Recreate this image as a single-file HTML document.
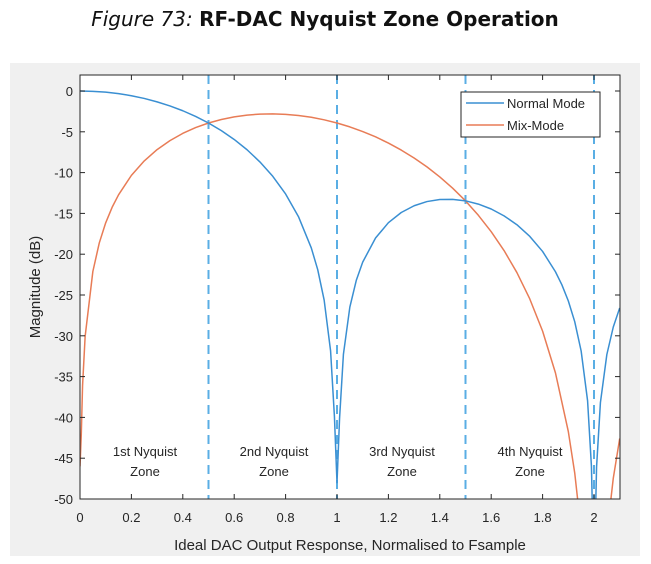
<!DOCTYPE html>
<html><head><meta charset="utf-8"><style>
html,body{margin:0;padding:0;background:#fff;width:651px;height:564px;overflow:hidden}
svg{display:block}
</style></head><body>
<svg id="chart" width="651" height="564" xmlns="http://www.w3.org/2000/svg">
<text x="325" y="26" text-anchor="middle" font-family="'DejaVu Sans','Liberation Sans',sans-serif" font-size="20" fill="#111"><tspan font-style="italic">Figure 73:</tspan> <tspan font-weight="bold">RF-DAC Nyquist Zone Operation</tspan></text>
<rect x="10" y="63" width="630" height="493" fill="#f0f0f0"/>
<rect x="80" y="75" width="540" height="424" fill="#fff"/>
<defs><clipPath id="clip"><rect x="80" y="75" width="540" height="424"/></clipPath></defs>
<g id="grid"></g>
<g id="series" clip-path="url(#clip)"></g>
<rect x="80" y="75" width="540" height="424" fill="none" stroke="#262626" stroke-width="1"/>
<g id="axes" font-family="'Liberation Sans',sans-serif" font-size="13" fill="#262626"></g>
<g font-family="'Liberation Sans',sans-serif" font-size="13" fill="#262626" text-anchor="middle">
<text x="145" y="456"><tspan x="145">1st Nyquist</tspan><tspan x="145" dy="20">Zone</tspan></text>
<text x="274" y="456"><tspan x="274">2nd Nyquist</tspan><tspan x="274" dy="20">Zone</tspan></text>
<text x="402" y="456"><tspan x="402">3rd Nyquist</tspan><tspan x="402" dy="20">Zone</tspan></text>
<text x="530" y="456"><tspan x="530">4th Nyquist</tspan><tspan x="530" dy="20">Zone</tspan></text>
</g>
<text x="350" y="550" text-anchor="middle" font-family="'Liberation Sans',sans-serif" font-size="15" fill="#262626">Ideal DAC Output Response, Normalised to Fsample</text>
<text transform="translate(40,287) rotate(-90)" text-anchor="middle" font-family="'Liberation Sans',sans-serif" font-size="15" fill="#262626">Magnitude (dB)</text>
<g>
<rect x="461" y="92" width="139" height="45" fill="#fff" stroke="#262626" stroke-width="1"/>
<line x1="466" y1="103" x2="504" y2="103" stroke="#3a8fd2" stroke-width="1.5"/>
<text x="507" y="108" font-family="'Liberation Sans',sans-serif" font-size="13" fill="#262626">Normal Mode</text>
<line x1="466" y1="125" x2="504" y2="125" stroke="#e87c56" stroke-width="1.5"/>
<text x="507" y="130" font-family="'Liberation Sans',sans-serif" font-size="13" fill="#262626">Mix-Mode</text>
</g>
</svg>
<script>
const xTicks = [0,0.2,0.4,0.6,0.8,1,1.2,1.4,1.6,1.8,2];
const xTickLabels = ["0","0.2","0.4","0.6","0.8","1","1.2","1.4","1.6","1.8","2"];
const yTicks = [0,-5,-10,-15,-20,-25,-30,-35,-40,-45,-50];
const zoneBoundaries = [0.5,1,1.5,2];
const normalF = [0,0.05,0.1,0.15,0.2,0.25,0.3,0.35,0.4,0.45,0.5,0.55,0.6,0.65,0.7,0.75,0.8,0.85,0.9,0.925,0.95,0.975,0.99,1.0,1.01,1.025,1.05,1.075,1.1,1.15,1.2,1.25,1.3,1.35,1.4,1.45,1.5,1.55,1.6,1.65,1.7,1.75,1.8,1.85,1.875,1.9,1.925,1.95,1.975,1.99,2.0,2.01,2.025,2.05,2.075,2.1];
const normalDb = [0,-0.04,-0.14,-0.32,-0.58,-0.91,-1.33,-1.83,-2.42,-3.12,-3.92,-4.86,-5.94,-7.2,-8.69,-10.45,-12.62,-15.39,-19.23,-21.9,-25.62,-31.83,-39.9,-48,-40.1,-32.26,-26.48,-23.21,-20.97,-18.02,-16.14,-14.89,-14.06,-13.55,-13.3,-13.28,-13.46,-13.86,-14.46,-15.3,-16.39,-17.81,-19.66,-22.15,-23.75,-25.72,-28.27,-31.86,-37.96,-45.98,-60,-46.07,-38.18,-32.29,-28.92,-26.59];
const mixF = [0,0.005,0.01,0.02,0.05,0.075,0.1,0.125,0.15,0.2,0.25,0.3,0.35,0.4,0.45,0.5,0.55,0.6,0.65,0.7,0.75,0.8,0.85,0.9,0.95,1.0,1.05,1.1,1.15,1.2,1.25,1.3,1.35,1.4,1.45,1.5,1.55,1.6,1.65,1.7,1.75,1.8,1.85,1.9,1.925,1.95,2.0,2.05,2.075,2.1];
const mixDb = [-46,-42.1,-36.08,-30.06,-22.12,-18.62,-16.15,-14.25,-12.72,-10.34,-8.57,-7.18,-6.08,-5.19,-4.48,-3.92,-3.49,-3.17,-2.95,-2.83,-2.8,-2.86,-3.0,-3.22,-3.53,-3.92,-4.4,-4.97,-5.62,-6.38,-7.24,-8.21,-9.3,-10.53,-11.91,-13.46,-15.23,-17.24,-19.55,-22.25,-25.47,-29.43,-34.54,-41.72,-46.81,-53.94,-80,-54.37,-47.46,-42.59];

const NS='http://www.w3.org/2000/svg';
const X0=80, PX=257, Y0=91, PY=8.16;
function xs(v){return X0+v*PX;}
function ys(v){return Y0-v*PY;}
function mk(t,a,p){const e=document.createElementNS(NS,t);for(const k in a)e.setAttribute(k,a[k]);p.appendChild(e);return e;}
const axes=document.getElementById('axes'), series=document.getElementById('series'), grid=document.getElementById('grid');

xTicks.forEach((v,i)=>{
  const x=xs(v);
  const t1=mk('line',{x1:x,y1:499,x2:x,y2:494,stroke:'#262626'},axes);
  
  
  const t2=mk('line',{x1:x,y1:75,x2:x,y2:80,stroke:'#262626'},axes);
  
  
  const l=mk('text',{x:x,y:522,'text-anchor':'middle'},axes);
  l.textContent=xTickLabels[i];
  
  
});
yTicks.forEach(v=>{
  const y=ys(v);
  const t1=mk('line',{x1:80,y1:y,x2:85,y2:y,stroke:'#262626'},axes);
  
  
  const t2=mk('line',{x1:615,y1:y,x2:620,y2:y,stroke:'#262626'},axes);
  
  
  const l=mk('text',{x:73,y:y+5,'text-anchor':'end'},axes);
  l.textContent=String(v);
  
  
});
zoneBoundaries.forEach(v=>{
  const d=mk('line',{x1:xs(v),y1:75,x2:xs(v),y2:499,stroke:'#5aaee4','stroke-width':2,'stroke-dasharray':'9,6'},grid);
  
  
});
function path(fx,fy,color,name){
  const d=fx.map((f,i)=>(i?'L':'M')+xs(f).toFixed(2)+','+ys(fy[i]).toFixed(2)).join(' ');
  const p=mk('path',{d:d,fill:'none',stroke:color,'stroke-width':1.5,'stroke-linejoin':'round'},series);
  
  
}
path(mixF,mixDb,'#e87c56','mix-mode-line');
path(normalF,normalDb,'#3a8fd2','normal-mode-line');
</script>
</body></html>
